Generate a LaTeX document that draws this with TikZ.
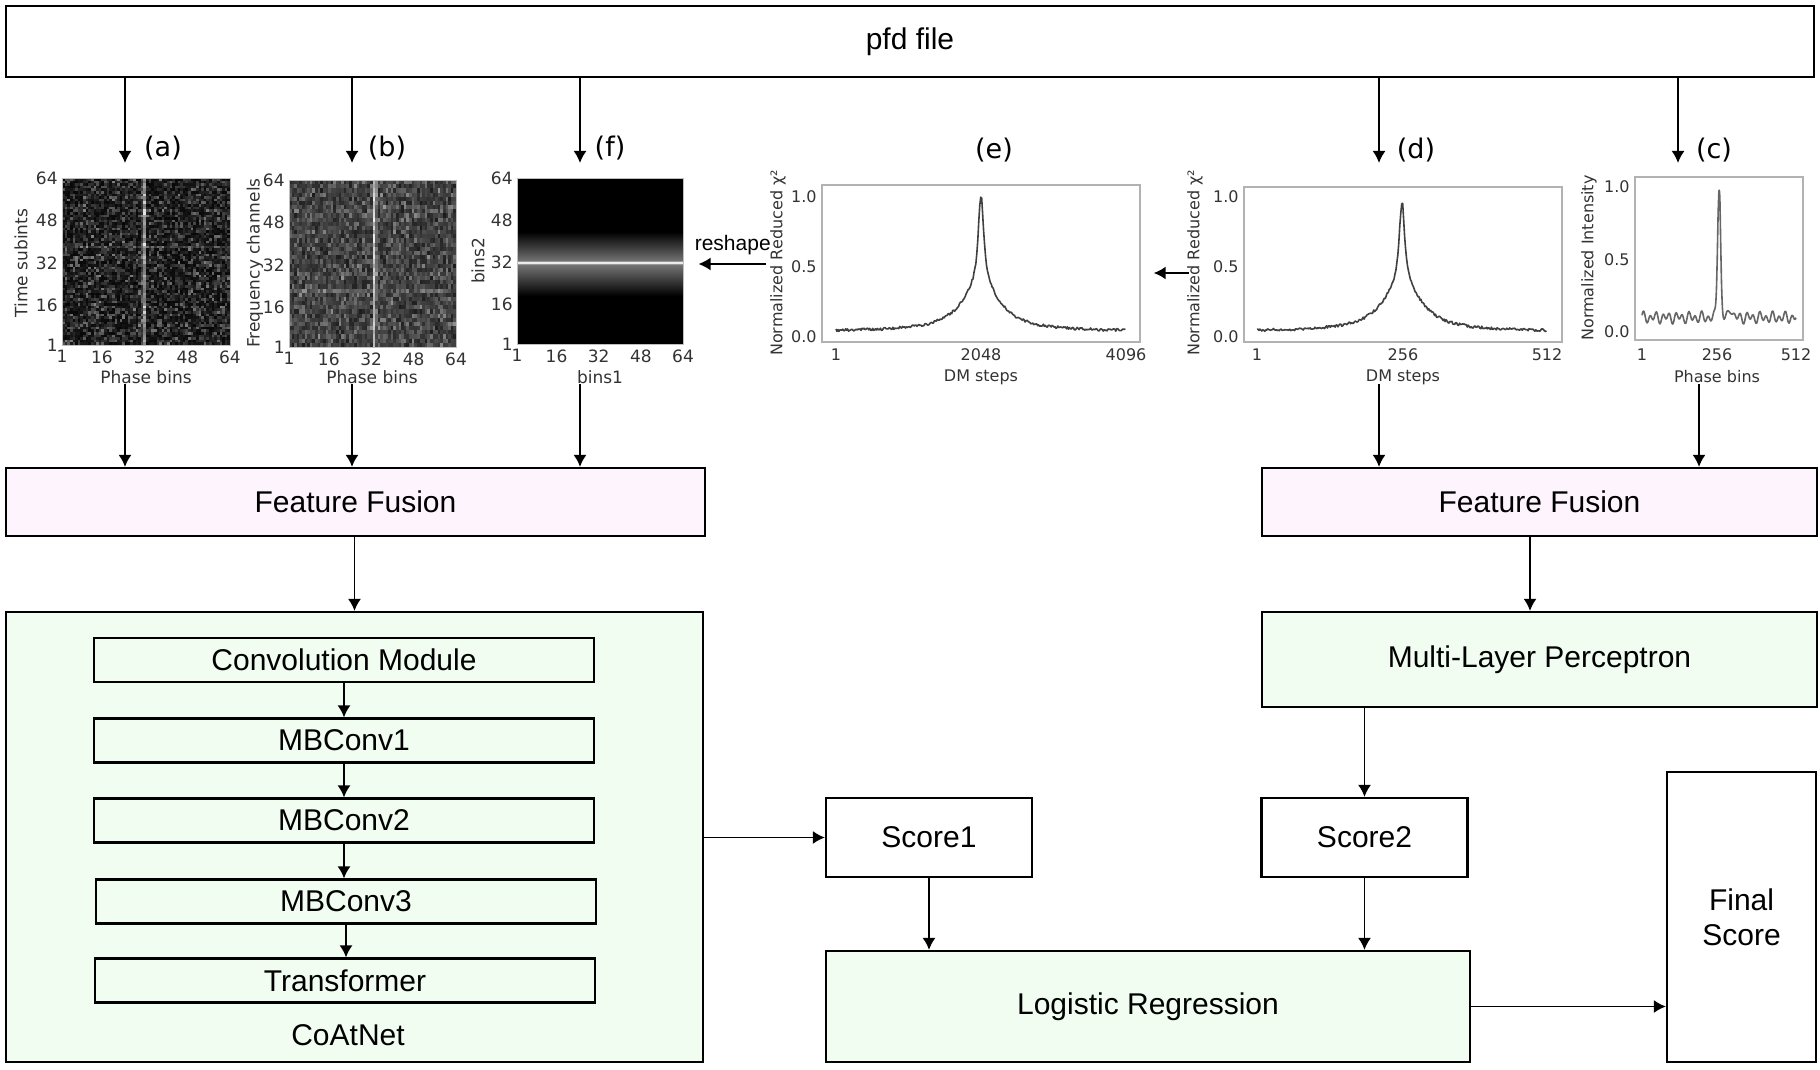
\documentclass[tikz,border=0pt]{standalone}
\usepackage{fontspec}
\setmainfont{Liberation Sans}
\newfontfamily\plotfont{DejaVu Sans}
\usetikzlibrary{positioning,arrows.meta}
\definecolor{fusepink}{RGB}{253,244,253}
\definecolor{netgreen}{RGB}{240,253,240}
\tikzset{
  flowarrow/.style={-{Latex[length=6pt, width=6.5pt]}, line width=0.9pt},
  blockbox/.style={draw, line width=1.1pt, align=center, inner sep=0pt, font=\fontsize{15}{17.5}\selectfont},
  fusebox/.style={blockbox, fill=fusepink},
  netbox/.style={blockbox, fill=netgreen},
  scorebox/.style={blockbox, fill=white},
  layerbox/.style={blockbox, fill=netgreen, minimum width=250pt, minimum height=22pt},
  panellabel/.style={font=\plotfont\fontsize{13.5}{16}\selectfont},
  plotframe/.style={draw=black!30, line width=0.7pt, inner sep=0pt},
  mapframe/.style={draw=black!25, line width=0.5pt, inner sep=0pt},
  ticklabel/.style={font=\plotfont\fontsize{8}{9}\selectfont, text=black!80, inner sep=1pt},
  maplabel/.style={font=\plotfont\fontsize{8.5}{10}\selectfont, text=black!80, inner sep=1pt},
  curve/.style={line width=0.8pt, black!75, line join=round}
}

\begin{document}
\begin{tikzpicture}[x=0.5pt, y=-0.5pt]
  \useasboundingbox (0,0) rectangle (1820,1070);

  % input file
  \node[scorebox, minimum width=904pt, minimum height=35.5pt] (pfd) at (910,41.5) {pfd file};

  % (a) time--phase map
  \pgfmathsetseed{11}
  \begin{scope}[shift={(62,345)}, y=0.5pt]
    \foreach \i in {0,...,63}{
      \foreach \j in {0,...,63}{
        \pgfmathsetmacro{\lev}{min(92, 3+50*rnd*rnd+42*(\i==31)+14*(\i==30)+12*(\j==37))}
        \fill[white!\lev!black] (\i*2.625,\j*2.61) rectangle ++(2.7,2.7);
      }
    }
  \end{scope}
  \node[mapframe, minimum width=84pt, minimum height=83.5pt] (pa) at (146,261.5) {};

  % (b) frequency--phase map
  \pgfmathsetseed{23}
  \begin{scope}[shift={(289,347)}, y=0.5pt]
    \foreach \i in {0,...,63}{
      \foreach \j in {0,...,39}{
        \pgfmathsetmacro{\lev}{min(92, 10+36*rnd*rnd+16*rnd+50*(\i==32)+14*(\i==33)+10*(\j==13))}
        \fill[white!\lev!black] (\i*2.61,\j*4.175) rectangle ++(2.7,4.3);
      }
    }
  \end{scope}
  \node[mapframe, minimum width=83.5pt, minimum height=83.5pt] (pb) at (372.5,263.5) {};

  % (f) reshaped DM curve
  \fill[black] (517,178) rectangle (683,344);
  \shade[top color=black, bottom color=white!45!black] (517,232) rectangle (683,261);
  \shade[top color=white!45!black, bottom color=black] (517,265) rectangle (683,296);
  \fill[white!60!black] (517,261) rectangle (683,265);
  \draw[white!92!black, line width=1.4pt] (517,263) -- (683,263);
  \node[mapframe, minimum width=83pt, minimum height=83pt] (pf) at (600,261) {};

  % map axes
  \foreach \v in {1,16,32,48,64}{
    \node[maplabel, anchor=east] at (60,{345-(\v-1)*167/63}) {\v};
    \node[maplabel, anchor=north] at ({62+(\v-1)*168/63},348) {\v};
    \node[maplabel, anchor=east] at (287,{347-(\v-1)*167/63}) {\v};
    \node[maplabel, anchor=north] at ({289+(\v-1)*167/63},350) {\v};
    \node[maplabel, anchor=east] at (515,{344-(\v-1)*166/63}) {\v};
    \node[maplabel, anchor=north] at ({517+(\v-1)*166/63},347) {\v};
  }
  \node[maplabel, rotate=90] at (21,263) {Time subints};
  \node[maplabel, rotate=90] at (255,263) {Frequency channels};
  \node[maplabel, rotate=90] at (478,261) {bins2};
  \node[maplabel] at (146,377) {Phase bins};
  \node[maplabel] at (372,377) {Phase bins};
  \node[maplabel] at (600,377) {bins1};

  % (e) DM curve, 4096 steps
  \pgfmathsetseed{5}
  \begin{scope}[shift={(836,337)}, x=145pt, y=70pt]
    \draw[curve] plot[domain=0:1, samples=301] (\x,{0.03+0.63/(1+(\x-0.5)*(\x-0.5)*8264)+0.33/(1+(\x-0.5)*(\x-0.5)*156.25)+0.02*rnd});
  \end{scope}
  \node[plotframe, minimum width=159pt, minimum height=78.5pt] (pe) at (981,263.5) {};
  \foreach \v/\t in {0/0.0,0.5/0.5,1/1.0}{
    \node[ticklabel, anchor=east] at (819,{337-140*\v}) {\t};
    \node[ticklabel, anchor=east] at (1241,{337-140*\v}) {\t};
    \node[ticklabel, anchor=east] at (1632,{332-145*\v}) {\t};
  }
  \foreach \p/\t in {836/1,981/2048,1126/4096,1257/1,1403/256,1547/512,1642/1,1717/256,1796/512}{
    \node[ticklabel, anchor=north] at (\p,346) {\t};
  }
  \node[ticklabel, rotate=90] at (778,263) {Normalized Reduced χ²};
  \node[ticklabel] at (981,377) {DM steps};

  % (d) DM curve, 512 steps
  \pgfmathsetseed{9}
  \begin{scope}[shift={(1257,337)}, x=145pt, y=70pt]
    \draw[curve] plot[domain=0:1, samples=301] (\x,{0.03+0.57/(1+(\x-0.5)*(\x-0.5)*8264)+0.34/(1+(\x-0.5)*(\x-0.5)*156.25)+0.02*rnd});
  \end{scope}
  \node[plotframe, minimum width=159pt, minimum height=77.5pt] (pd) at (1403,264.5) {};
  \node[ticklabel, rotate=90] at (1195,263) {Normalized Reduced χ²};
  \node[ticklabel] at (1403,377) {DM steps};

  % (c) pulse profile
  \begin{scope}[shift={(1642,332)}, x=77pt, y=72.5pt]
    \draw[curve, black!60] plot[domain=0:1, samples=181, smooth] (\x,{0.1+0.028*sin(8600*\x)+0.018*sin(4700*\x+60)+0.9*exp(max(-40,-(\x-0.5)*(\x-0.5)*5556))+0.07*exp(max(-40,-(\x-0.575)*(\x-0.575)*5000))});
  \end{scope}
  \node[plotframe, minimum width=84pt, minimum height=81.5pt] (pc) at (1719,258.5) {};
  \node[ticklabel, rotate=90] at (1589,258) {Normalized Intensity};
  \node[ticklabel] at (1717,377) {Phase bins};

  % panel labels
  \node[panellabel] at (163,148) {(a)};
  \node[panellabel] at (387,148) {(b)};
  \node[panellabel] at (610,148) {(f)};
  \node[panellabel] at (994,150) {(e)};
  \node[panellabel] at (1416,150) {(d)};
  \node[panellabel] at (1714,150) {(c)};

  % fusion and networks
  \node[fusebox, minimum width=349.5pt, minimum height=34pt] (ffl) at (355.5,502) {Feature Fusion};
  \node[fusebox, minimum width=277.5pt, minimum height=34pt] (ffr) at (1539.5,502) {Feature Fusion};
  \node[netbox, minimum width=277.5pt, minimum height=47.5pt] (mlp) at (1539.5,659.5) {Multi-Layer Perceptron};
  \node[netbox, minimum width=348.5pt, minimum height=225pt] (coat) at (354.5,837) {};
  \node[font=\fontsize{15}{17.5}\selectfont] (coatname) at (348,1035) {CoAtNet};
  \node[layerbox] (conv) at (344,660) {Convolution Module};
  \node[layerbox] (mb1) at (344,740.5) {MBConv1};
  \node[layerbox] (mb2) at (344,820.5) {MBConv2};
  \node[layerbox] (mb3) at (346,901.5) {MBConv3};
  \node[layerbox] (trans) at (345,980.5) {Transformer};
  \node[scorebox, minimum width=103pt, minimum height=39.5pt] (sc1) at (929,837.5) {Score1};
  \node[scorebox, minimum width=103pt, minimum height=39.5pt] (sc2) at (1364.5,837.5) {Score2};
  \node[netbox, minimum width=322pt, minimum height=55.5pt] (lr) at (1148,1006.5) {Logistic Regression};
  \node[scorebox, minimum width=74.5pt, minimum height=145pt] (fin) at (1741.5,917) {Final\\Score};

  % arrow ends at the plots
  \coordinate (ta) at (125,163);
  \coordinate (tb) at (352,163);
  \coordinate (tf) at (580,163);
  \coordinate (td) at (1379,163);
  \coordinate (tc) at (1678,163);
  \coordinate (oa) at (125,384);
  \coordinate (ob) at (352,384);
  \coordinate (of) at (580,384);
  \coordinate (od) at (1379,384);
  \coordinate (oc) at (1699,384);
  \coordinate (rs) at (766,264);
  \coordinate (ds) at (1189,273);

  \foreach \t in {ta,tb,tf,td,tc}{
    \draw[flowarrow] (pfd.south -| \t) -- (\t);
  }
  \foreach \o in {oa,ob,of}{
    \draw[flowarrow] (\o) -- (\o |- ffl.north);
  }
  \foreach \o in {od,oc}{
    \draw[flowarrow] (\o) -- (\o |- ffr.north);
  }
  \draw[flowarrow, shorten >=7.5pt] (rs) -- (pf.east |- rs) node[midway, above=1pt, font=\fontsize{10.5}{12}\selectfont, xshift=4pt] {reshape};
  \draw[flowarrow, shorten >=6.5pt] (ds) -- (pe.east |- ds);

  \draw[flowarrow] (ffl.south -| coat.north) -- (coat.north);
  \draw[flowarrow] ([xshift=-4.75pt]ffr.south) -- ([xshift=-4.75pt]mlp.north);
  \draw[flowarrow] (mlp.south -| sc2.north) -- (sc2.north);
  \draw[flowarrow] (conv.south) -- (conv.south |- mb1.north);
  \draw[flowarrow] (mb1.south) -- (mb1.south |- mb2.north);
  \draw[flowarrow] (mb2.south) -- (mb2.south |- mb3.north);
  \draw[flowarrow] (mb3.south) -- (mb3.south |- trans.north);
  \draw[flowarrow] (coat.east |- sc1.west) -- (sc1.west);
  \draw[flowarrow] (sc1.south) -- (sc1.south |- lr.north);
  \draw[flowarrow] (sc2.south) -- (sc2.south |- lr.north);
  \draw[flowarrow] (lr.east) -- (lr.east -| fin.west);
\end{tikzpicture}
\end{document}
